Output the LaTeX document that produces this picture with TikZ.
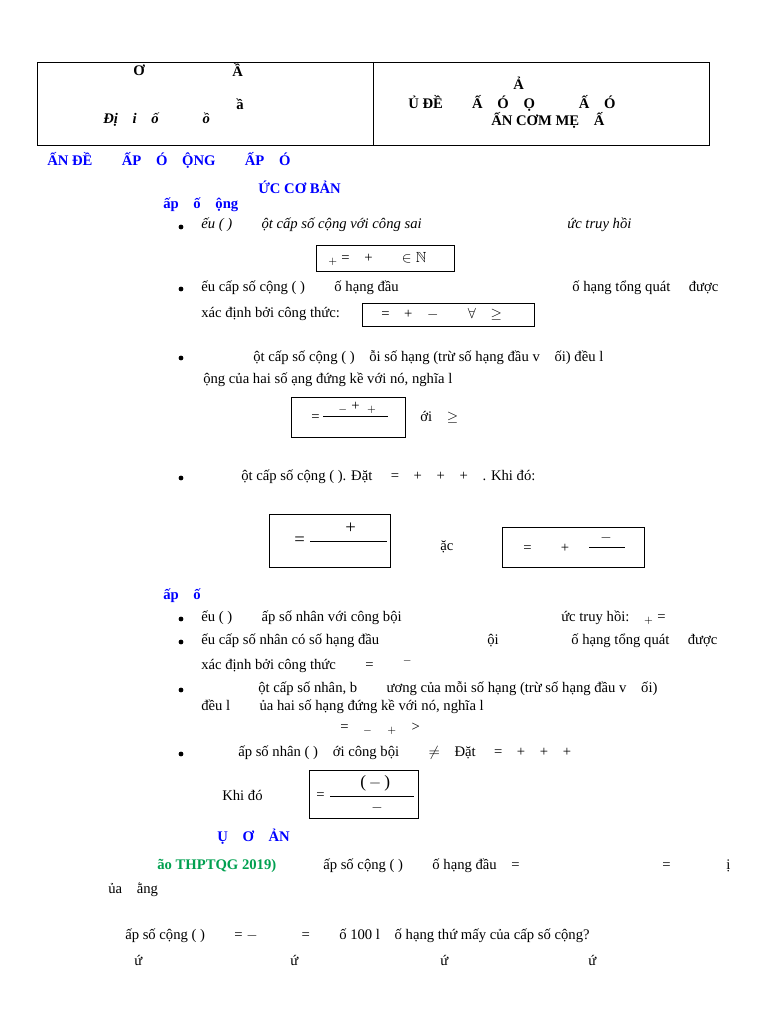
\documentclass[tikz,border=0pt]{standalone}
\usepackage{amssymb}
\usepackage{fontspec}
\setmainfont{Liberation Serif}
\begin{document}
\begin{tikzpicture}[x=0.75pt,y=-0.75pt,
  t/.style={anchor=west,inner sep=0pt,font=\fontsize{11}{13}\selectfont},
  bt/.style={t,font=\fontsize{11}{13}\selectfont\bfseries},
  bl/.style={t,font=\fontsize{11}{13}\selectfont\bfseries,text=blue},
  gr/.style={t,font=\fontsize{11}{13}\selectfont\bfseries,text={rgb,255:red,0;green,160;blue,80}},
  it/.style={t,font=\fontsize{11}{13}\selectfont\itshape},
  bx/.style={draw,line width=0.6pt}]
\useasboundingbox (0,0) rectangle (768,1024);
\draw[bx] (37,62) rectangle (709,145);
\draw[bx] (373,62) -- (373,145);
\node[bt] (h1) at (133,70) {Ơ};
\node[bt] (h2) at (232,70) {Ầ};
\node[bt] (h3) at (236,104) {ầ};
\node[bt,font=\fontsize{11}{13}\selectfont\bfseries\itshape] (h4) at (103,120) {Đị\quad i\quad ố\qquad\quad ồ};
\node[bt] (h5) at (513,83) {Ả};
\node[bt] (h6) at (408,103) {Ủ ĐỀ\qquad Ấ\quad Ó\quad Ọ\qquad\quad Ấ\quad Ó};
\node[bt] (h7) at (491,120) {ẤN CƠM MẸ\quad Ấ};
\node[bl] (s1) at (47,160) {ẤN ĐỀ\qquad ẤP\quad Ó\quad ỘNG\qquad ẤP\quad Ó};
\node[bl] (s2) at (258,187) {ỨC CƠ BẢN};
\node[bl] (s3) at (163,205) {ấp\quad ố\quad ộng};
\foreach \y in {227,289,358,478,619,642,690,754}{\fill (181,\y) circle (2.4);}
\node[it] (a1) at (201,225) {ếu ( )\qquad ột cấp số cộng với công sai};
\node[it] (a2) at (567,225) {ức truy hồi};
\draw[bx] (316,245) rectangle (454,271);
\node[t] (a3) at (328,259) {$_+$ =\quad +\qquad $\in\mathbb{N}$};
\node[t] (b1) at (201,288) {ếu cấp số cộng ( )\qquad ố hạng đầu};
\node[t] (b2) at (572,288) {ố hạng tổng quát\quad\ được};
\node[t] (b3) at (201,314) {xác định bởi công thức:};
\draw[bx] (362,303) rectangle (534,326);
\node[t] (b4) at (381,314) {=\quad +\quad $-$\qquad $\forall$\quad $\geq$};
\node[t] (c1) at (253,358) {ột cấp số cộng ( )\quad ỗi số hạng (trừ số hạng đầu v\quad ối) đều l};
\node[t] (c2) at (203,380) {ộng của hai số\ ạng đứng kề với nó, nghĩa l};
\draw[bx] (291,397) rectangle (405,437);
\node[t] (c3) at (311,418) {=};
\draw (323,416) -- (388,416);
\node[t] (c4) at (338,408) {$_-$ + \ $_+$};
\node[t] (c5) at (420,417) {ới\quad $\geq$};
\node[t] (d1) at (241,477) {ột cấp số cộng ( ). Đặt\quad\ =\quad +\quad +\quad +\quad . Khi đó:};
\draw[bx] (269,514) rectangle (390,567);
\node[t,font=\fontsize{14}{15}\selectfont] (d2) at (294,541) {=};
\draw (310,541) -- (387,541);
\node[t,font=\fontsize{14}{15}\selectfont] (d3) at (345,528) {+};
\node[t] (d4) at (440,547) {ặc};
\draw[bx] (502,527) rectangle (644,567);
\node[t] (d5) at (523,548) {=\qquad +};
\draw (589,547) -- (625,547);
\node[t] (d6) at (600,538) {$-$};
\node[bl] (e0) at (163,596) {ấp\quad ố};
\node[t] (e1) at (201,618) {ếu ( )\qquad ấp số nhân với công bội};
\node[t] (e2) at (561,618) {ức truy hồi:\quad $_+$ =};
\node[t] (f1) at (201,641) {ếu cấp số nhân có số hạng đầu};
\node[t] (f2) at (487,641) {ội};
\node[t] (f3) at (571,641) {ố hạng tổng quát\quad\ được};
\node[t] (f4) at (201,665) {xác định bởi công thức\qquad =\qquad $^-$};
\node[t] (g1) at (258,689) {ột cấp số nhân, b\qquad ương của mỗi số hạng (trừ số hạng đầu v\quad ối)};
\node[t] (g2) at (201,707) {đều l\qquad ủa hai số hạng đứng kề với nó, nghĩa l};
\node[t] (g3) at (340,729) {=\quad $_-$\quad $_+$\quad >};
\node[t] (h8) at (238,753) {ấp số nhân ( )\quad ới công bội\qquad $\neq$\quad Đặt\quad\ =\quad +\quad +\quad +};
\draw[bx] (309,770) rectangle (418,818);
\node[t] (i1) at (222,795) {Khi đó};
\node[t] (i2) at (316,796) {=};
\draw (330,796) -- (414,796);
\node[t,font=\fontsize{13}{15}\selectfont] (i3) at (360,783) {(\,$-$\,)};
\node[t] (i4) at (371,808) {$-$};
\node[bl] (j0) at (217,837) {Ụ\quad Ơ\quad ẢN};
\node[gr] (j1) at (157,866) {ão THPTQG 2019)};
\node[t] (j2) at (323,866) {ấp số cộng ( )\qquad ố hạng đầu\quad =};
\node[t] (j3) at (662,866) {=};
\node[t] (j4) at (726,866) {ị};
\node[t] (j5) at (108,890) {ủa\quad ằng};
\node[t] (k1) at (125,936) {ấp số cộng ( )\qquad = $-$\qquad\quad =\qquad ố 100 l\quad ố hạng thứ mấy của cấp số cộng?};
\node[t] (k2) at (134,960) {ứ};
\node[t] (k3) at (290,960) {ứ};
\node[t] (k4) at (440,960) {ứ};
\node[t] (k5) at (588,960) {ứ};
\end{tikzpicture}
\end{document}
